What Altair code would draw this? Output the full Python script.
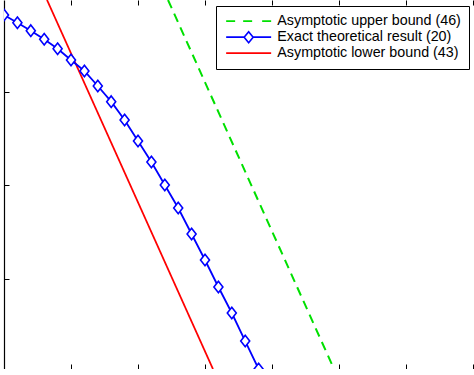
import altair as alt
import pandas as pd

# ---- data ----
series_names = [
    "Asymptotic upper bound (46)",
    "Exact theoretical result (20)",
    "Asymptotic lower bound (43)",
]
series_colors = ["#00e000", "#0000ff", "#ff0000"]

upper_x = [2.448, 4.925]
upper_y = [3.99, 0.03]

lower_x = [0.642, 3.119]
lower_y = [3.99, 0.03]

exact_x = [0.0, 0.2, 0.4, 0.6, 0.8, 1.0, 1.2, 1.4, 1.6, 1.8,
           2.0, 2.2, 2.4, 2.6, 2.8, 3.0, 3.2, 3.4, 3.6, 3.8]
exact_y = [3.829, 3.746, 3.661, 3.568, 3.467, 3.346, 3.228, 3.067, 2.899, 2.702,
           2.477, 2.252, 2.005, 1.758, 1.479, 1.200, 0.910, 0.631, 0.330, 0.03]

x_ticks = [1, 2, 3, 4, 5, 6, 7]
y_ticks = [1, 2, 3]

# legend symbol shapes (paths) for the three series
legend_paths = [
    "M-1.0,0H0.8M2.4,0H4.2M6.2,0H8.0",
    "M-1.0,0H2.6M4.4,0H8.0M3.5,-1.1L4.4,0L3.5,1.1L2.6,0Z",
    "M-1.0,0H8.0",
]

W, H = 470, 369
xs = alt.Scale(domain=[0, W / 67.0], nice=False, zero=False)
ys = alt.Scale(domain=[0.03, 3.99], nice=False, zero=False)

upper_df = pd.DataFrame({"x": upper_x, "y": upper_y})
lower_df = pd.DataFrame({"x": lower_x, "y": lower_y})
exact_df = pd.DataFrame({"x": exact_x, "y": exact_y})
legend_df = pd.DataFrame({"series": series_names})

axis_common = dict(labels=False, grid=False, title=None, ticks=True, tickSize=5,
                   tickColor="black", tickWidth=1, domainColor="black", domainWidth=1.2)

x_axis_bottom = alt.Axis(orient="top", offset=-H, domain=True, values=x_ticks, **axis_common)
x_axis_top = alt.Axis(orient="bottom", offset=-H, domain=False, values=x_ticks, **axis_common)
y_axis_left = alt.Axis(orient="right", offset=-W, domain=True, values=y_ticks, **axis_common)

upper = alt.Chart(upper_df).mark_line(
    color=series_colors[0], strokeDash=[9, 6], strokeWidth=2, clip=True
).encode(
    x=alt.X("x:Q", scale=xs, axis=x_axis_bottom),
    y=alt.Y("y:Q", scale=ys, axis=y_axis_left),
)

lower = alt.Chart(lower_df).mark_line(
    color=series_colors[2], strokeWidth=1.8, clip=True
).encode(
    x=alt.X("x:Q", scale=xs, axis=x_axis_top),
    y=alt.Y("y:Q", scale=ys, axis=None),
)

exact_line = alt.Chart(exact_df).mark_line(
    color=series_colors[1], strokeWidth=1.8, clip=True
).encode(
    x=alt.X("x:Q", scale=xs, axis=None),
    y=alt.Y("y:Q", scale=ys, axis=None),
)

exact_pts = alt.Chart(exact_df).mark_point(
    shape="M0,-1.15L0.9,0L0,1.15L-0.9,0Z", size=100, filled=True, fill="white",
    stroke=series_colors[1], strokeWidth=1.6, opacity=1, clip=True
).encode(
    x=alt.X("x:Q", scale=xs, axis=None),
    y=alt.Y("y:Q", scale=ys, axis=None),
)

legend_props = dict(
    orient="none", legendX=212, legendY=6, title=None,
    symbolSize=100, symbolStrokeWidth=1.6, symbolOpacity=1,
    labelFont="Liberation Sans", labelFontSize=14.3, labelColor="black",
    labelOffset=39, labelLimit=500, padding=8, rowPadding=-1.0,
    strokeColor="black", fillColor="white", cornerRadius=0,
)

legend_layer = alt.Chart(legend_df).mark_point(opacity=0, filled=False).encode(
    color=alt.Color(
        "series:N",
        scale=alt.Scale(domain=series_names, range=series_colors),
        legend=alt.Legend(**legend_props),
    ),
    shape=alt.Shape(
        "series:N",
        scale=alt.Scale(domain=series_names, range=legend_paths),
        legend=alt.Legend(**legend_props),
    ),
)

chart = alt.layer(upper, lower, exact_line, exact_pts, legend_layer).resolve_axis(
    x="independent", y="independent"
).properties(
    width=W, height=H,
    autosize=alt.AutoSizeParams(type="none"),
    padding={"left": 4, "top": 0, "right": 0, "bottom": 0},
    background="white",
).configure_view(stroke=None)

chart.save("out.html", embed_options={"renderer": "svg", "actions": False})
